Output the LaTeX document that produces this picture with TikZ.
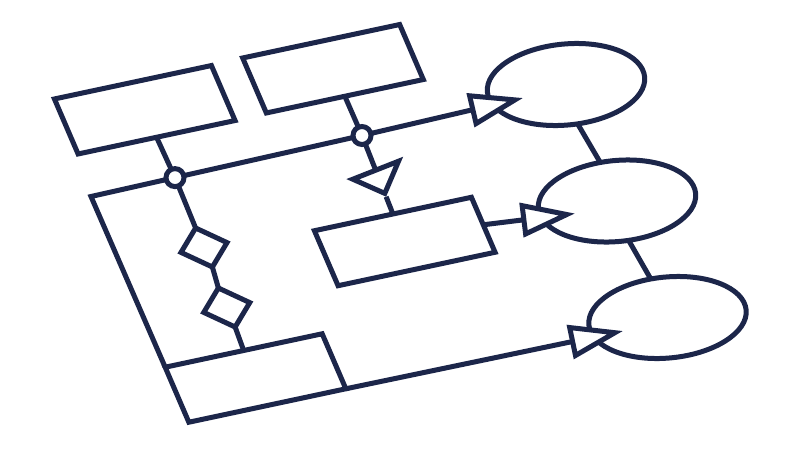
\documentclass[tikz,border=0pt]{standalone}
\usetikzlibrary{shapes.geometric,arrows.meta,calc}
\definecolor{flowc}{RGB}{28,38,74}
\begin{document}
\begin{tikzpicture}[x=1pt,y=-1pt, line width=5pt, color=flowc,
  skewed/.style={cm={1,0.213,-0.43,1,(0,0)}},
  box/.style={draw, fill=white, skewed, rectangle, minimum width=157pt, minimum height=55pt, inner sep=0pt, outer sep=0pt},
  dia/.style={draw, fill=white, skewed, diamond, minimum width=46pt, minimum height=39pt, inner sep=0pt, outer sep=0pt},
  dot/.style={draw, fill=white, circle, minimum size=18pt, inner sep=0pt, outer sep=0pt},
  oval/.style={draw, fill=white, ellipse, minimum width=158pt, minimum height=81pt, inner sep=0pt, outer sep=0pt, rotate=5.5},
  arrR/.style={-{Triangle[length=54pt,width=34pt,fill=white]}},
  arrD/.style={-{Triangle[length=31pt,width=60pt,fill=white]}}]
\useasboundingbox[fill=white] (0,0) rectangle (800,450);
\node[box] (b1) at (144.75,109.75) {};
\node[box] (b2) at (333,68.75) {};
\node[box] (mid) at (404.75,241.5) {};
\node[box] (bot) at (255.5,378) {};
\node[dot] (c1) at (175,177.6) {};
\node[dot] (c2) at (362,135.5) {};
\node[dia] (d1) at (204,247.5) {};
\node[dia] (d2) at (226.75,307.5) {};
\node[oval] (e1) at (566,84.5) {};
\node[oval] (e2) at (617,201) {};
\node[oval] (e3) at (667.5,317.5) {};
\coordinate (tl) at (91,196.5);
\coordinate (a1) at (523,98);
\coordinate (a2) at (575,213.5);
\coordinate (a3) at (623,331);
\coordinate (t1) at ($(c2)!0.78!(mid.north)$);
\draw (bot.north west) -- (tl) -- (c1);
\draw (b1.south) -- (c1);
\draw (c1) -- (c2);
\draw (b2.south) -- (c2);
\draw[arrR] (c2) -- (a1);
\draw[arrD] (c2) -- (t1);
\draw (t1) -- (mid.north);
\draw (c1) -- (d1.north);
\draw (d1.south) -- (d2.north);
\draw (d2.south) -- (bot.north);
\draw[arrR] (mid.east) -- (a2);
\draw[arrR] (bot.south east) -- (a3);
\draw (e1.-79) -- (e2.108);
\draw (e2.-79) -- (e3.108);
\end{tikzpicture}
\end{document}
